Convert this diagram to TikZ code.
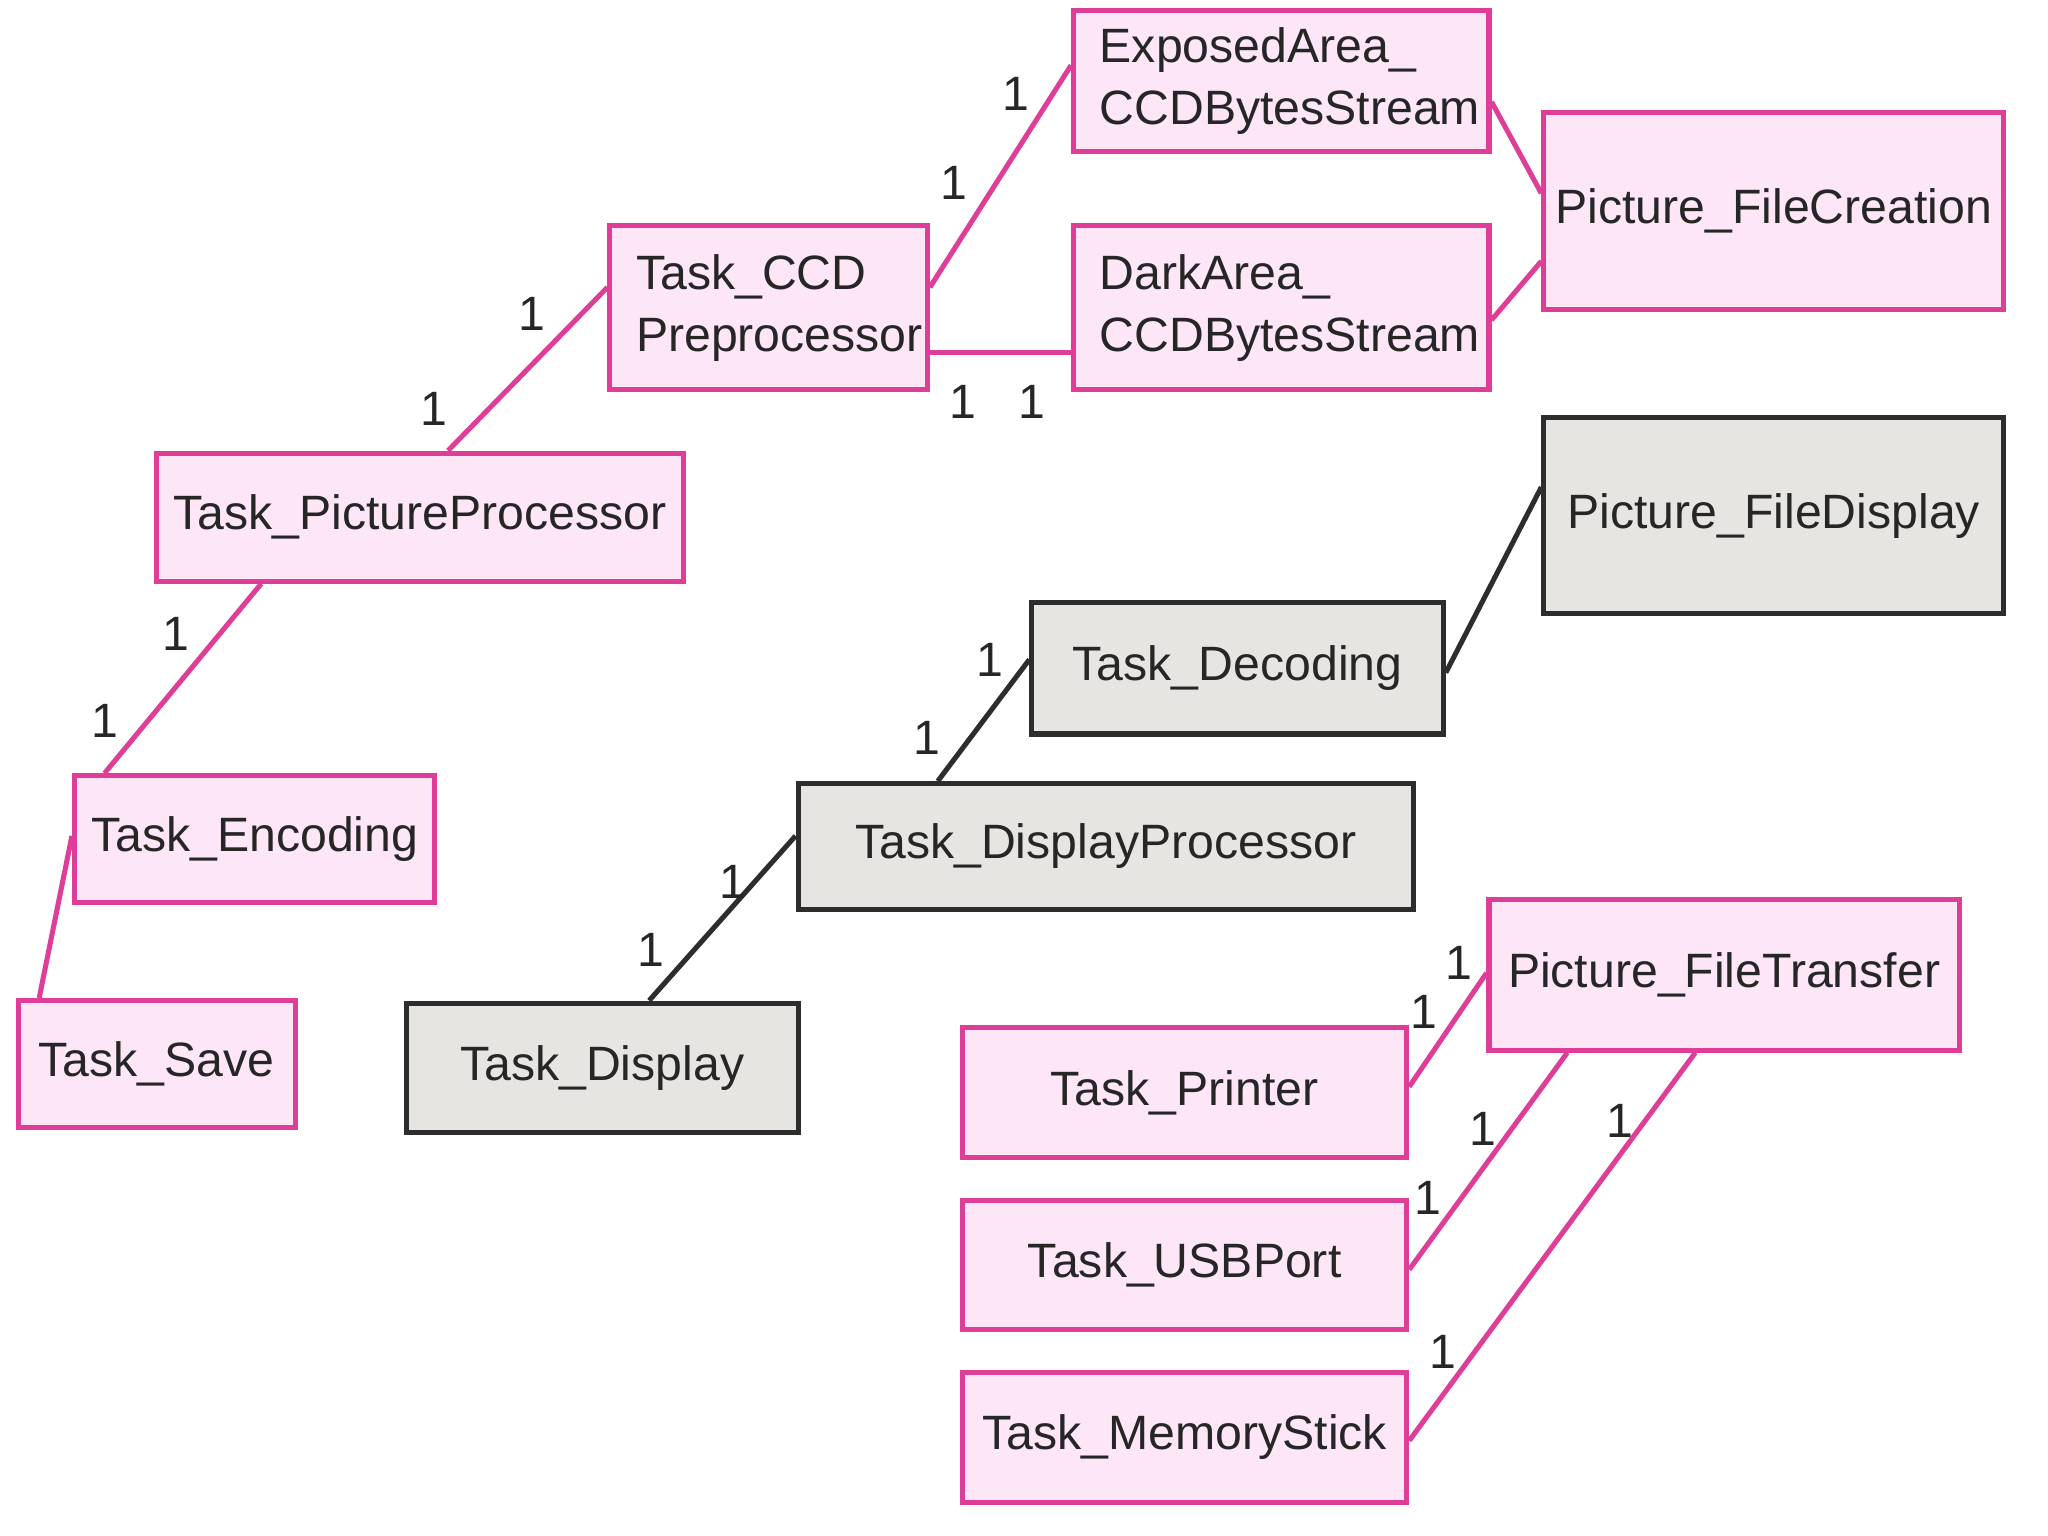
\documentclass[tikz,border=0pt]{standalone}
\usepackage{fontspec}
\setmainfont{Liberation Sans}
\definecolor{pinkline}{RGB}{222,62,152}
\definecolor{pinkfill}{RGB}{253,230,246}
\definecolor{grayfill}{RGB}{231,229,226}
\definecolor{grayline}{RGB}{45,45,45}
\tikzset{
  pbox/.style={draw=pinkline, fill=pinkfill, line width=1.1pt, inner sep=0pt,
    font=\fontsize{10.5}{13.5}\selectfont, text=black!85},
  gbox/.style={pbox, draw=grayline, fill=grayfill},
  plink/.style={draw=pinkline, line width=1.1pt},
  glink/.style={draw=grayline, line width=1.1pt},
  mult/.style={font=\fontsize{10.5}{12}\selectfont, text=black!85}
}
\begin{document}
\begin{tikzpicture}
\fill[white] (0,0) rectangle (15.68,11.76);
\useasboundingbox (0,0) rectangle (15.68,11.76);

% upper branch
\node[pbox, minimum width=3.18cm, minimum height=1.08cm, text width=2.78cm, align=left] (exp) at (9.81,11.14) {ExposedArea\_\\CCDBytesStream};
\node[pbox, minimum width=3.18cm, minimum height=1.25cm, text width=2.78cm, align=left] (dark) at (9.81,9.405) {DarkArea\_\\CCDBytesStream};
\node[pbox, minimum width=3.52cm, minimum height=1.51cm] (fcre) at (13.58,10.145) {Picture\_FileCreation};
\node[pbox, minimum width=2.43cm, minimum height=1.25cm, text width=2.03cm, align=left] (ccd) at (5.885,9.405) {Task\_CCD\\Preprocessor};
\node[pbox, minimum width=4.03cm, minimum height=0.98cm] (ppro) at (3.215,7.80) {Task\_PictureProcessor};
\node[pbox, minimum width=2.76cm, minimum height=0.97cm] (enc) at (1.95,5.335) {Task\_Encoding};
\node[pbox, minimum width=2.12cm, minimum height=0.97cm] (save) at (1.20,3.615) {Task\_Save};

% display branch
\node[gbox, minimum width=3.52cm, minimum height=1.50cm] (fdis) at (13.58,7.81) {Picture\_FileDisplay};
\node[gbox, minimum width=3.15cm, minimum height=1.01cm] (dec) at (9.475,6.645) {Task\_Decoding};
\node[gbox, minimum width=4.71cm, minimum height=0.96cm] (dpro) at (8.465,5.28) {Task\_DisplayProcessor};
\node[gbox, minimum width=3.00cm, minimum height=0.99cm] (disp) at (4.61,3.585) {Task\_Display};

% transfer branch
\node[pbox, minimum width=3.60cm, minimum height=1.15cm] (ftra) at (13.20,4.295) {Picture\_FileTransfer};
\node[pbox, minimum width=3.40cm, minimum height=0.99cm] (prn) at (9.07,3.395) {Task\_Printer};
\node[pbox, minimum width=3.40cm, minimum height=0.99cm] (usb) at (9.07,2.075) {Task\_USBPort};
\node[pbox, minimum width=3.40cm, minimum height=0.99cm] (mem) at (9.07,0.755) {Task\_MemoryStick};

% links
\draw[plink] ([yshift=0.155cm]ccd.east) -- ([yshift=0.12cm]exp.west);
\draw[plink] ([yshift=-0.345cm]ccd.east) -- ([yshift=-0.345cm]dark.west);
\draw[plink] ([yshift=-0.16cm]exp.east) -- ([yshift=0.135cm]fcre.west);
\draw[plink] ([yshift=-0.095cm]dark.east) -- ([yshift=-0.385cm]fcre.west);
\draw[plink] ([xshift=0.215cm]ppro.north) -- ([yshift=0.155cm]ccd.west);
\draw[plink] ([xshift=-1.215cm]ppro.south) -- ([xshift=-1.15cm]enc.north);
\draw[plink] ([yshift=0.025cm]enc.west) -- ([xshift=-0.90cm]save.north);
\draw[glink] ([yshift=-0.035cm]dec.east) -- ([yshift=0.22cm]fdis.west);
\draw[glink] ([xshift=-1.285cm]dpro.north) -- ([yshift=0.065cm]dec.west);
\draw[glink] ([xshift=0.36cm]disp.north) -- ([yshift=0.08cm]dpro.west);
\draw[plink] ([yshift=0.045cm]prn.east) -- ([yshift=0.015cm]ftra.west);
\draw[plink] ([yshift=-0.035cm]usb.east) -- ([xshift=-1.20cm]ftra.south);
\draw[plink] ([yshift=-0.025cm]mem.east) -- ([xshift=-0.22cm]ftra.south);

% multiplicities
\foreach \p [count=\i] in {(7.30,10.36),(7.78,11.04),(7.37,8.68),(7.90,8.68),
    (3.32,8.63),(4.07,9.36),(1.35,6.91),(0.80,6.24),(7.10,6.11),(7.58,6.71),
    (4.98,4.49),(5.61,5.01),(10.90,4.01),(11.17,4.39),(10.93,2.59),(11.35,3.12),
    (11.05,1.41),(12.40,3.18)}
  \node[mult] (m\i) at \p {1};
\end{tikzpicture}
\end{document}
